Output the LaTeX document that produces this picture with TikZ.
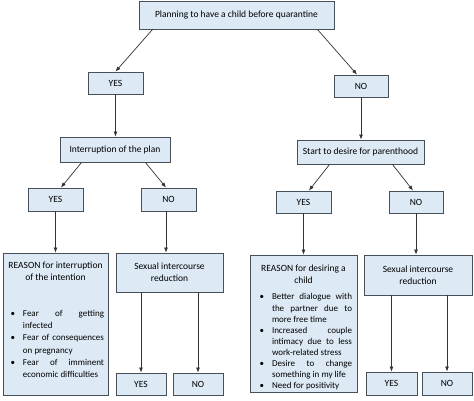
\documentclass[tikz,border=0pt]{standalone}
\usepackage{fontspec}
\setmainfont{Carlito}
\usepackage{enumitem}
\usetikzlibrary{arrows.meta}
\definecolor{boxfill}{HTML}{DDEAF6}
\definecolor{boxline}{HTML}{465059}
\definecolor{arrline}{HTML}{333333}
\newcommand{\boxfont}{\fontsize{9.5}{12}\selectfont}
\begin{document}
\begin{tikzpicture}[x=1pt,y=-1pt,
  box/.style={draw=boxline,fill=boxfill,line width=0.9pt,inner sep=0pt,
    font=\boxfont,align=center},
  arr/.style={draw=arrline,line width=0.7pt,-{Latex[length=5pt,width=4pt]}},
  txt/.style={inner sep=0pt,font=\boxfont},
  lst/.style={txt,text width=96pt,align=justify}]
  \useasboundingbox (0,0) rectangle (474,401);
  % top level
  \node[box,minimum width=195,minimum height=28] (plan) at (236.5,15) {Planning to have a child before quarantine};
  \node[box,minimum width=55,minimum height=22] (yesA) at (115.5,83) {YES};
  \node[box,minimum width=54,minimum height=22] (noA) at (361,86) {NO};
  % second level
  \node[box,minimum width=110,minimum height=25] (interr) at (115,149.5) {Interruption of the plan};
  \node[box,minimum width=127,minimum height=24] (start) at (360.5,152) {Start to desire for parenthood};
  \node[box,minimum width=55,minimum height=23] (yesB) at (55.5,199.5) {YES};
  \node[box,minimum width=55,minimum height=23] (noB) at (168.5,199.5) {NO};
  \node[box,minimum width=55,minimum height=22] (yesC) at (303.5,202) {YES};
  \node[box,minimum width=54,minimum height=22] (noC) at (416,202) {NO};
  % reasons
  \node[box,minimum width=105,minimum height=142] (rsnA) at (55.5,324) {};
  \node[txt,align=center] (rsnAhead) at (55.5,271.5) {REASON for interruption\\of the intention};
  \node[lst] (rsnAlist) at (56,341) {\hyphenpenalty=10000 \fontsize{9}{12.2}\selectfont
    \begin{itemize}[leftmargin=15pt,labelsep=8pt,topsep=0pt,partopsep=0pt,itemsep=0pt,parsep=0pt]
      \item Fear of getting\linebreak infected
      \item Fear of consequences\linebreak on pregnancy
      \item Fear of imminent\linebreak economic difficulties
    \end{itemize}};
  \node[box,minimum width=107,minimum height=137] (rsnB) at (303.5,323.5) {};
  \node[txt,align=center] (rsnBhead) at (303.5,274.5) {REASON for desiring a\\child};
  \node[lst] (rsnBlist) at (304,339.5) {\hyphenpenalty=10000 \fontsize{9}{11.1}\selectfont
    \begin{itemize}[leftmargin=16pt,labelsep=8pt,topsep=0pt,partopsep=0pt,itemsep=0pt,parsep=0pt]
      \item Better dialogue with\linebreak the partner due to\linebreak more free time
      \item Increased couple\linebreak intimacy due to less\linebreak work-related stress
      \item Desire to change\linebreak something in my life
      \item Need for positivity
    \end{itemize}};
  % intercourse
  \node[box,minimum width=107,minimum height=39] (sexA) at (169.5,272.5) {Sexual intercourse\\reduction};
  \node[box,minimum width=108,minimum height=40] (sexB) at (418,275) {Sexual intercourse\\reduction};
  \node[box,minimum width=50,minimum height=22] (yesD) at (141,384) {YES};
  \node[box,minimum width=50,minimum height=22] (noD) at (198,384) {NO};
  \node[box,minimum width=51,minimum height=23] (yesE) at (391.5,383.5) {YES};
  \node[box,minimum width=50,minimum height=23] (noE) at (447,383.5) {NO};
  % connectors
  \draw[arr] ([xshift=14pt]plan.south west) -- (yesA.north);
  \draw[arr] ([xshift=-17pt]plan.south east) -- ([xshift=-4pt]noA.north);
  \draw[arr] (yesA.south) -- (yesA.south |- interr.north);
  \draw[arr] (noA.south) -- (noA.south |- start.north);
  \draw[arr] ([xshift=22pt]interr.south west) -- ([xshift=5.5pt]yesB.north);
  \draw[arr] ([xshift=-25pt]interr.south east) -- ([xshift=-2.5pt]noB.north);
  \draw[arr] ([xshift=33pt]start.south west) -- ([xshift=5.5pt]yesC.north);
  \draw[arr] ([xshift=-32pt]start.south east) -- ([xshift=-3pt]noC.north);
  \draw[arr] (yesB.south) -- (yesB.south |- rsnA.north);
  \draw[arr] ([xshift=-2.5pt]noB.south) -- ([xshift=-2.5pt]noB.south |- sexA.north);
  \draw[arr] (yesC.south) -- (yesC.south |- rsnB.north);
  \draw[arr] (noC.south) -- (noC.south |- sexB.north);
  \foreach \leaf/\parent in {yesD/sexA,noD/sexA,yesE/sexB,noE/sexB}
    \draw[arr] (\leaf.north |- \parent.south) -- (\leaf.north);
\end{tikzpicture}
\end{document}
